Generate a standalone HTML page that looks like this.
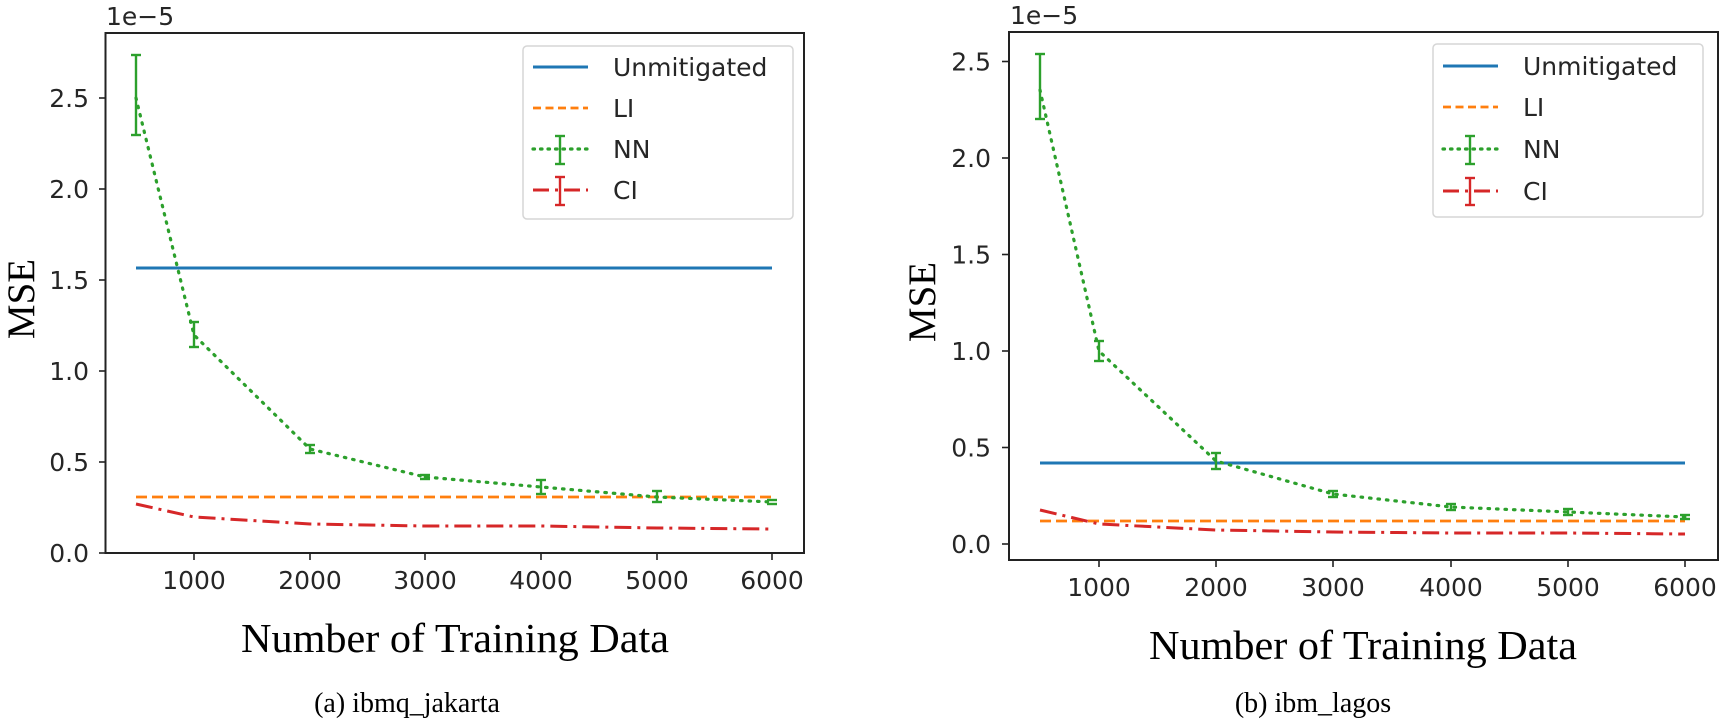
<!DOCTYPE html>
<html><head><meta charset="utf-8"><style>
html,body{margin:0;padding:0;background:#fff;}
svg{display:block;}
.t{font-family:"DejaVu Sans","Liberation Sans",sans-serif;font-size:25px;fill:#262626;}
.s{font-family:"Liberation Serif",serif;fill:#000;}
</style></head><body>
<svg width="1725" height="724" viewBox="0 0 1725 724" xmlns="http://www.w3.org/2000/svg">
<!-- LEFT PLOT -->
<g>
<rect x="105.5" y="33" width="698.5" height="520" fill="none" stroke="#222" stroke-width="2"/>
<g stroke="#222" stroke-width="1.6">
<line x1="99" y1="553" x2="105" y2="553"/><line x1="99" y1="462" x2="105" y2="462"/><line x1="99" y1="371" x2="105" y2="371"/><line x1="99" y1="280" x2="105" y2="280"/><line x1="99" y1="189" x2="105" y2="189"/><line x1="99" y1="98" x2="105" y2="98"/>
<line x1="194" y1="553" x2="194" y2="560"/><line x1="310" y1="553" x2="310" y2="560"/><line x1="425" y1="553" x2="425" y2="560"/><line x1="541" y1="553" x2="541" y2="560"/><line x1="657" y1="553" x2="657" y2="560"/><line x1="772" y1="553" x2="772" y2="560"/>
</g>
<g class="t" text-anchor="end">
<text x="89" y="562">0.0</text><text x="89" y="471">0.5</text><text x="89" y="380">1.0</text><text x="89" y="289">1.5</text><text x="89" y="198">2.0</text><text x="89" y="107">2.5</text>
</g>
<g class="t" text-anchor="middle">
<text x="194" y="589">1000</text><text x="310" y="589">2000</text><text x="425" y="589">3000</text><text x="541" y="589">4000</text><text x="657" y="589">5000</text><text x="772" y="589">6000</text>
</g>
<text class="t" x="106" y="25">1e−5</text>
<text class="s" x="455" y="652" font-size="41" text-anchor="middle" textLength="428" lengthAdjust="spacingAndGlyphs">Number of Training Data</text>
<text class="s" x="407" y="712" font-size="28" text-anchor="middle">(a) ibmq_jakarta</text>
<text class="s" font-size="39" text-anchor="middle" transform="translate(34,299) rotate(-90)">MSE</text>
<line x1="136" y1="268" x2="772" y2="268" stroke="#1f77b4" stroke-width="3"/>
<line x1="136" y1="497" x2="772" y2="497" stroke="#ff7f0e" stroke-width="2.8" stroke-dasharray="11 5"/>
<polyline points="136,98 194,335 310,449 425,477 541,487 657,497 772,502" fill="none" stroke="#2ca02c" stroke-width="3.2" stroke-dasharray="1.5 7" stroke-linecap="round"/>
<g stroke="#2ca02c" stroke-width="2.4">
<line x1="136" y1="55" x2="136" y2="135"/><line x1="131" y1="55" x2="141" y2="55"/><line x1="131" y1="135" x2="141" y2="135"/>
<line x1="194" y1="322" x2="194" y2="347"/><line x1="189" y1="322" x2="199" y2="322"/><line x1="189" y1="347" x2="199" y2="347"/>
<line x1="310" y1="445" x2="310" y2="453"/><line x1="305" y1="445" x2="315" y2="445"/><line x1="305" y1="453" x2="315" y2="453"/>
<line x1="425" y1="475" x2="425" y2="479"/><line x1="420" y1="475" x2="430" y2="475"/><line x1="420" y1="479" x2="430" y2="479"/>
<line x1="541" y1="480" x2="541" y2="494"/><line x1="536" y1="480" x2="546" y2="480"/><line x1="536" y1="494" x2="546" y2="494"/>
<line x1="657" y1="491" x2="657" y2="502"/><line x1="652" y1="491" x2="662" y2="491"/><line x1="652" y1="502" x2="662" y2="502"/>
<line x1="767" y1="500" x2="777" y2="500"/><line x1="767" y1="504" x2="777" y2="504"/>
</g>
<polyline points="136,504 194,517 310,524 425,526 541,526 657,528 772,529" fill="none" stroke="#d62728" stroke-width="3" stroke-dasharray="17 6 3 6"/>
<rect x="523" y="46" width="270" height="173" rx="4" fill="#fff" fill-opacity="0.85" stroke="#d6d6d6" stroke-width="1.5"/>
<line x1="533" y1="67" x2="588" y2="67" stroke="#1f77b4" stroke-width="3"/>
<line x1="533" y1="108" x2="588" y2="108" stroke="#ff7f0e" stroke-width="2.8" stroke-dasharray="8 4.5"/>
<line x1="533" y1="149" x2="588" y2="149" stroke="#2ca02c" stroke-width="3.2" stroke-dasharray="1.5 6" stroke-linecap="round"/>
<g stroke="#2ca02c" stroke-width="2.4"><line x1="560" y1="136" x2="560" y2="164"/><line x1="555" y1="136" x2="565" y2="136"/><line x1="555" y1="164" x2="565" y2="164"/></g>
<line x1="533" y1="190" x2="588" y2="190" stroke="#d62728" stroke-width="3" stroke-dasharray="16 6 3 6"/>
<g stroke="#d62728" stroke-width="2.4"><line x1="560" y1="177" x2="560" y2="205"/><line x1="555" y1="177" x2="565" y2="177"/><line x1="555" y1="205" x2="565" y2="205"/></g>
<g class="t"><text x="613" y="76">Unmitigated</text><text x="613" y="117">LI</text><text x="613" y="158">NN</text><text x="613" y="199">CI</text></g>
</g>

<!-- RIGHT PLOT -->
<g>
<rect x="1009" y="32" width="709" height="528" fill="none" stroke="#222" stroke-width="2"/>
<g stroke="#222" stroke-width="1.6">
<line x1="1002" y1="544" x2="1009" y2="544"/><line x1="1002" y1="447.5" x2="1009" y2="447.5"/><line x1="1002" y1="351" x2="1009" y2="351"/><line x1="1002" y1="254.5" x2="1009" y2="254.5"/><line x1="1002" y1="158" x2="1009" y2="158"/><line x1="1002" y1="61.5" x2="1009" y2="61.5"/>
<line x1="1099" y1="560" x2="1099" y2="567"/><line x1="1216" y1="560" x2="1216" y2="567"/><line x1="1333" y1="560" x2="1333" y2="567"/><line x1="1451" y1="560" x2="1451" y2="567"/><line x1="1568" y1="560" x2="1568" y2="567"/><line x1="1685" y1="560" x2="1685" y2="567"/>
</g>
<g class="t" text-anchor="end">
<text x="991" y="553">0.0</text><text x="991" y="456.5">0.5</text><text x="991" y="360">1.0</text><text x="991" y="263.5">1.5</text><text x="991" y="167">2.0</text><text x="991" y="70.5">2.5</text>
</g>
<g class="t" text-anchor="middle">
<text x="1099" y="596">1000</text><text x="1216" y="596">2000</text><text x="1333" y="596">3000</text><text x="1451" y="596">4000</text><text x="1568" y="596">5000</text><text x="1685" y="596">6000</text>
</g>
<text class="t" x="1010" y="24">1e−5</text>
<text class="s" x="1363" y="659" font-size="41" text-anchor="middle" textLength="428" lengthAdjust="spacingAndGlyphs">Number of Training Data</text>
<text class="s" x="1313" y="712" font-size="28" text-anchor="middle">(b) ibm_lagos</text>
<text class="s" font-size="39" text-anchor="middle" transform="translate(935,302) rotate(-90)">MSE</text>
<line x1="1040" y1="463" x2="1685" y2="463" stroke="#1f77b4" stroke-width="3"/>
<line x1="1040" y1="521" x2="1685" y2="521" stroke="#ff7f0e" stroke-width="2.8" stroke-dasharray="11 5"/>
<polyline points="1040,90 1099,351 1216,461 1333,494 1451,507 1568,512 1685,517" fill="none" stroke="#2ca02c" stroke-width="3.2" stroke-dasharray="1.5 7" stroke-linecap="round"/>
<g stroke="#2ca02c" stroke-width="2.4">
<line x1="1040" y1="54" x2="1040" y2="119"/><line x1="1035" y1="54" x2="1045" y2="54"/><line x1="1035" y1="119" x2="1045" y2="119"/>
<line x1="1099" y1="341" x2="1099" y2="361"/><line x1="1094" y1="341" x2="1104" y2="341"/><line x1="1094" y1="361" x2="1104" y2="361"/>
<line x1="1216" y1="453" x2="1216" y2="469"/><line x1="1211" y1="453" x2="1221" y2="453"/><line x1="1211" y1="469" x2="1221" y2="469"/>
<line x1="1333" y1="491" x2="1333" y2="497"/><line x1="1328" y1="491" x2="1338" y2="491"/><line x1="1328" y1="497" x2="1338" y2="497"/>
<line x1="1451" y1="504" x2="1451" y2="510"/><line x1="1446" y1="504" x2="1456" y2="504"/><line x1="1446" y1="510" x2="1456" y2="510"/>
<line x1="1568" y1="509" x2="1568" y2="515"/><line x1="1563" y1="509" x2="1573" y2="509"/><line x1="1563" y1="515" x2="1573" y2="515"/>
<line x1="1680" y1="515" x2="1690" y2="515"/><line x1="1680" y1="519" x2="1690" y2="519"/>
</g>
<polyline points="1040,510 1099,524 1216,530 1333,532 1451,533 1568,533 1685,534" fill="none" stroke="#d62728" stroke-width="3" stroke-dasharray="17 6 3 6"/>
<rect x="1433" y="44" width="270" height="173" rx="4" fill="#fff" fill-opacity="0.85" stroke="#d6d6d6" stroke-width="1.5"/>
<line x1="1443" y1="66" x2="1498" y2="66" stroke="#1f77b4" stroke-width="3"/>
<line x1="1443" y1="107" x2="1498" y2="107" stroke="#ff7f0e" stroke-width="2.8" stroke-dasharray="8 4.5"/>
<line x1="1443" y1="149" x2="1498" y2="149" stroke="#2ca02c" stroke-width="3.2" stroke-dasharray="1.5 6" stroke-linecap="round"/>
<g stroke="#2ca02c" stroke-width="2.4"><line x1="1470" y1="136" x2="1470" y2="164"/><line x1="1465" y1="136" x2="1475" y2="136"/><line x1="1465" y1="164" x2="1475" y2="164"/></g>
<line x1="1443" y1="191" x2="1498" y2="191" stroke="#d62728" stroke-width="3" stroke-dasharray="16 6 3 6"/>
<g stroke="#d62728" stroke-width="2.4"><line x1="1470" y1="178" x2="1470" y2="205"/><line x1="1465" y1="178" x2="1475" y2="178"/><line x1="1465" y1="205" x2="1475" y2="205"/></g>
<g class="t"><text x="1523" y="75">Unmitigated</text><text x="1523" y="116">LI</text><text x="1523" y="158">NN</text><text x="1523" y="200">CI</text></g>
</g>
</svg>
</body></html>
